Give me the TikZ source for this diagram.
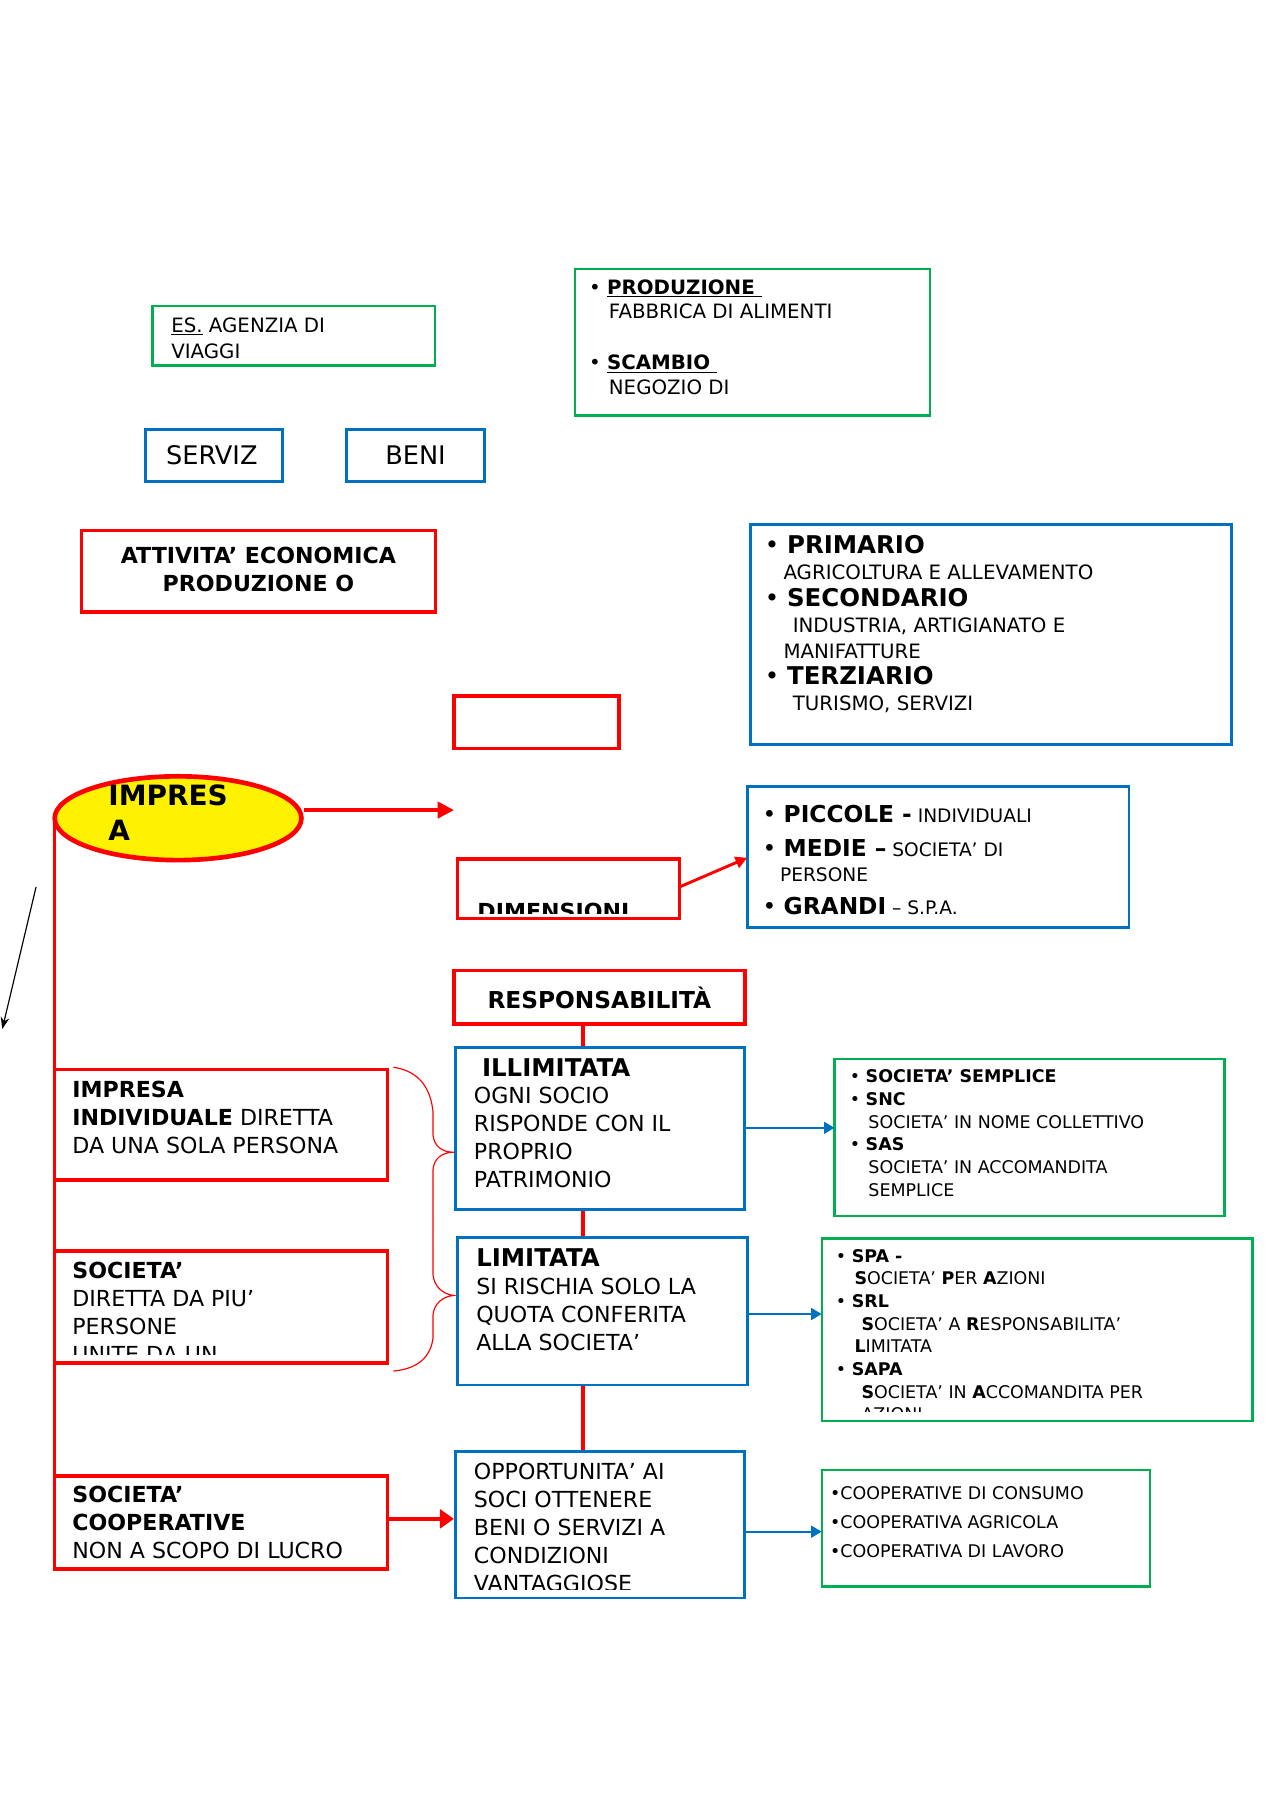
\documentclass[tikz,border=0pt]{standalone}
\usepackage{fontspec}
\setmainfont{DejaVu Sans}
\usetikzlibrary{arrows.meta,shapes.geometric}
\newcommand{\fz}[2]{\fontsize{#1}{#2}\selectfont}
\tikzset{
 rbox/.style={draw=red,line width=3pt},
 bbox/.style={draw={rgb,255:red,0;green,112;blue,192},line width=2.5pt},
 gbox/.style={draw={rgb,255:red,0;green,176;blue,80},line width=2pt},
 txt/.style={anchor=north west,align=left,inner sep=0pt},
 rline/.style={draw=red,line width=3pt},
 barrow/.style={draw={rgb,255:red,0;green,112;blue,192},line width=2pt,-{Triangle[length=9pt,width=10pt]}},
 rarrow/.style={draw=red,line width=3pt,-{Triangle[length=14pt,width=14pt]}}
}
\begin{document}
\begin{tikzpicture}[x=1pt,y=-1pt]
\useasboundingbox (0,0) rectangle (1100,1556);
\draw[gbox] (131,263) rectangle (374,314);
\begin{scope}\clip (131,263) rectangle (374,311);
\node[txt,font=\fz{17}{22}] (es) at (147,273) {\underline{ES.} AGENZIA DI\\VIAGGI};
\end{scope}
\draw[gbox] (494,231) rectangle (799,357);
\node[txt,font=\fz{17}{21}] (prod) at (506,240) {\textbullet\ \textbf{\underline{PRODUZIONE }}\\\hspace*{17pt}FABBRICA DI ALIMENTI\\[23pt]\textbullet\ \textbf{\underline{SCAMBIO }}\\\hspace*{17pt}NEGOZIO DI};
\draw[bbox] (125,369) rectangle (243,414); \node[font=\fz{22}{24}] (serv) at (182,391) {SERVIZ};
\draw[bbox] (298,369) rectangle (416,414); \node[font=\fz{22}{24}] (beni) at (357,391) {BENI};
\draw[rbox] (70,456) rectangle (374,526);
\node[align=center,font=\fz{19}{24}\bfseries] (att) at (222,489) {ATTIVITA’ ECONOMICA\\PRODUZIONE O};
\draw[bbox] (645,451) rectangle (1058,640);
\node[txt,font=\fz{17}{22.5}] (sett) at (657,460) {{\fz{21}{22.5}\textbullet\ \textbf{PRIMARIO}}\\\hspace*{16pt}AGRICOLTURA E ALLEVAMENTO\\{\fz{21}{22.5}\textbullet\ \textbf{SECONDARIO}}\\\hspace*{24pt}INDUSTRIA, ARTIGIANATO E\\\hspace*{16pt}MANIFATTURE\\{\fz{21}{22.5}\textbullet\ \textbf{TERZIARIO}}\\\hspace*{24pt}TURISMO, SERVIZI};
\draw[rbox] (390,598) rectangle (532,643);
\node[draw=red,line width=4pt,fill=yellow,ellipse,minimum width=212pt,minimum height=72pt] (imp) at (153,703) {};
\node[txt,font=\fz{24}{30}\bfseries] (impt) at (93,674) {IMPRES\\A};
\coordinate (ar1) at (390,696);
\draw[rarrow] (imp.east) ++(0,-7) -- (ar1);
\draw[rbox] (393,738) rectangle (584,789);
\begin{scope}\clip (393,738) rectangle (584,785);
\node[txt,font=\fz{19}{22}\bfseries] (dim) at (410,776) {DIMENSIONI};
\end{scope}
\coordinate (dimr) at (584,762);
\draw[bbox] (642,676) rectangle (970,797);
\begin{scope}\clip (642,676) rectangle (970,793);
\node[txt,font=\fz{16}{21}] (dimt) at (655,692) {{\fz{20}{21}\textbullet\ \textbf{PICCOLE -}} INDIVIDUALI\\[8pt]{\fz{20}{21}\textbullet\ \textbf{MEDIE –}} SOCIETA’ DI\\\hspace*{15pt}PERSONE\\[8pt]{\fz{20}{21}\textbullet\ \textbf{GRANDI}} – S.P.A.};
\end{scope}
\coordinate (dimb) at (642,737);
\draw[red,line width=2.5pt,-{Triangle[length=10pt,width=10pt]}] (dimr) -- (dimb);
\coordinate (bl1) at (31,762); \coordinate (bl2) at (2,884);
\draw[line width=1pt,-{Stealth[length=10pt]}] (bl1) -- (bl2);
\draw[rline] (47,703) -- (47,1348);
\draw[rbox] (390,834) rectangle (640,880);
\node[font=\fz{20}{24}\bfseries] (resp) at (515,857) {RESPONSABILITÀ};
\draw[rline] (501,880) -- (501,900) (501,1039) -- (501,1063) (501,1190) -- (501,1247);
\draw[bbox] (391,900) rectangle (640,1039);
\node[txt,font=\fz{19}{24}] (ill) at (407,909) {\hspace*{7pt}{\fz{21}{24}\textbf{ILLIMITATA}}\\OGNI SOCIO\\RISPONDE CON IL\\PROPRIO\\PATRIMONIO};
\draw[gbox] (717,910) rectangle (1052,1045);
\node[txt,font=\fz{15}{19.5}] (snc) at (730,919) {\textbullet\ \textbf{SOCIETA’ SEMPLICE}\\\textbullet\ \textbf{SNC}\\\hspace*{16pt}SOCIETA’ IN NOME COLLETTIVO\\\textbullet\ \textbf{SAS}\\\hspace*{16pt}SOCIETA’ IN ACCOMANDITA\\\hspace*{16pt}SEMPLICE};
\coordinate (a1s) at (641,969); \coordinate (a1e) at (717,969);
\draw[barrow] (a1s) -- (a1e);
\draw[rbox] (47,919) rectangle (333,1014);
\node[txt,font=\fz{19}{24}] (ind) at (62,929) {\textbf{IMPRESA}\\\textbf{INDIVIDUALE} DIRETTA\\DA UNA SOLA PERSONA};
\draw[rbox] (47,1075) rectangle (333,1171);
\begin{scope}\clip (47,1075) rectangle (333,1164);
\node[txt,font=\fz{19}{24}] (soc) at (62,1084) {\textbf{SOCIETA’}\\DIRETTA DA PIU’\\PERSONE\\UNITE DA UN};
\end{scope}
\draw[red,line width=1pt] (338,917) .. controls (360,920) and (370,935) .. (372,955) -- (372,975) .. controls (373,985) and (380,990) .. (390,990) .. controls (380,990) and (373,995) .. (372,1005) -- (372,1095) .. controls (373,1105) and (380,1112) .. (390,1113) .. controls (380,1114) and (373,1120) .. (372,1130) -- (372,1150) .. controls (370,1165) and (360,1176) .. (338,1178);
\draw[bbox] (393,1063) rectangle (642,1190);
\node[txt,font=\fz{19}{24}] (lim) at (409,1073) {{\fz{21}{24}\textbf{LIMITATA}}\\SI RISCHIA SOLO LA\\QUOTA CONFERITA\\ALLA SOCIETA’};
\draw[gbox] (706,1064) rectangle (1076,1221);
\begin{scope}\clip (706,1064) rectangle (1076,1213);
\node[txt,font=\fz{15}{19.5}] (spa) at (718,1073) {\textbullet\ \textbf{SPA -}\\\hspace*{16pt}\textbf{S}OCIETA’ \textbf{P}ER \textbf{A}ZIONI\\\textbullet\ \textbf{SRL}\\\hspace*{22pt}\textbf{S}OCIETA’ A \textbf{R}ESPONSABILITA’\\\hspace*{16pt}\textbf{L}IMITATA\\\textbullet\ \textbf{SAPA}\\\hspace*{22pt}\textbf{S}OCIETA’ IN \textbf{A}CCOMANDITA PER\\\hspace*{22pt}AZIONI};
\end{scope}
\coordinate (a2s) at (643,1129); \coordinate (a2e) at (706,1129);
\draw[barrow] (a2s) -- (a2e);
\draw[rbox] (47,1268) rectangle (333,1348);
\begin{scope}\clip (47,1268) rectangle (333,1342);
\node[txt,font=\fz{19}{24}] (coop) at (62,1277) {\textbf{SOCIETA’}\\\textbf{COOPERATIVE}\\NON A SCOPO DI LUCRO};
\end{scope}
\coordinate (a3s) at (333,1305); \coordinate (a3e) at (390,1305);
\draw[red,line width=4pt,-{Triangle[length=12pt,width=16pt]}] (a3s) -- (a3e);
\draw[bbox] (391,1247) rectangle (640,1373);
\begin{scope}\clip (391,1247) rectangle (640,1366);
\node[txt,font=\fz{19}{24}] (opp) at (407,1257) {OPPORTUNITA’ AI\\SOCI OTTENERE\\BENI O SERVIZI A\\CONDIZIONI\\VANTAGGIOSE};
\end{scope}
\draw[gbox] (706,1263) rectangle (988,1363);
\node[txt,font=\fz{15}{25}] (cc) at (713,1277) {\textbullet COOPERATIVE DI CONSUMO\\\textbullet COOPERATIVA AGRICOLA\\\textbullet COOPERATIVA DI LAVORO};
\coordinate (a4s) at (640,1316); \coordinate (a4e) at (706,1316);
\draw[barrow] (a4s) -- (a4e);
\end{tikzpicture}
\end{document}
